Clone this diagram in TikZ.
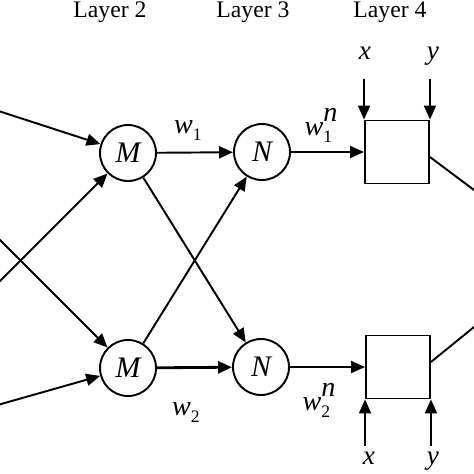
\documentclass[tikz,border=0pt]{standalone}
\usepackage{fontspec}
\setmainfont{Liberation Serif}
\usetikzlibrary{arrows.meta}

% weight labels: w with a small index (and an n above it)
\newcommand{\wt}[1]{\textit{w}\raisebox{-0.25em}{\fontsize{10}{10}\selectfont #1}}
\newcommand{\wn}[1]{\textit{w}\rlap{\raisebox{-0.28em}{\fontsize{10}{10}\selectfont #1}}\raisebox{0.48em}{\textit{n}}}

\begin{document}
\begin{tikzpicture}[x=0.02cm, y=-0.02cm, line width=1.1pt,
    >={Triangle[length=0.28cm, width=0.24cm]},
    neuron/.style={circle, draw, minimum size=1.12cm, inner sep=0pt,
        font=\fontsize{17}{20}\selectfont\itshape},
    cell/.style={rectangle, draw, minimum width=1.28cm, minimum height=1.26cm},
    lbl/.style={font=\fontsize{16}{19}\selectfont, anchor=base, inner sep=0pt},
    xy/.style={font=\fontsize{15.5}{19}\selectfont\itshape, inner sep=0pt,
        text height=0.5em, text depth=0.2em, anchor=base},
    layer/.style={font=\fontsize{13.5}{16}\selectfont, anchor=base}]
        \useasboundingbox (0,0) rectangle (474,474);
        \clip (0,0) rectangle (474,474);

        % layer titles
        \node[layer] (lay2) at (110,17) {Layer 2};
        \node[layer] (lay3) at (253,17) {Layer 3};
        \node[layer] (lay4) at (390,17) {Layer 4};

        % layer 2 and layer 3 nodes
        \node[neuron] (m1) at (128,153) {M};
        \node[neuron] (m2) at (128,368) {M};
        \node[neuron] (n1) at (262,152) {N};
        \node[neuron] (n2) at (261,367) {N};

        % layer 4 boxes
        \node[cell] (b1) at (397,152) {};
        \node[cell] (b2) at (398,367) {};

        % inputs x, y of the boxes
        \node[xy] (x1) at (365,59) {x};
        \node[xy] (y1) at (433,59) {y};
        \node[xy] (x2) at (369,464) {x};
        \node[xy] (y2) at (433,464) {y};

        % weights
        \node[lbl] (w1) at (188,133) {\wt{1}};
        \node[lbl] (w2) at (186,415) {\wt{2}};
        \node[lbl] (wn1) at (321,135) {\wn{1}};
        \node[lbl] (wn2) at (319,410) {\wn{2}};

        % lines coming in from the left and going out on the right
        \coordinate (in1) at (-20,105);
        \coordinate (in2) at (-20,220);
        \coordinate (in3) at (-20,301);
        \coordinate (in4) at (-20,410);
        \coordinate (out1) at (490,202);
        \coordinate (out2) at (490,314);

        \draw[->] (in1) -- (m1);
        \draw[->] (in3) -- (m1);
        \draw[->] (in2) -- (m2);
        \draw[->] (in4) -- (m2);

        % layer 2 -> layer 3
        \draw[->] (m1) -- (n1);
        \draw[->, line width=1.6pt] (m2) -- (n2);
        \draw[->] (m1) -- (n2);
        \draw[->] (m2) -- (n1);

        % layer 3 -> layer 4
        \draw[->] (n1) -- (b1);
        \draw[->] (n2) -- (b2);

        \draw[->, shorten <=0.31cm] (x1.south -| b1.north west) -- (b1.north west);
        \draw[->, shorten <=0.31cm] (y1.south -| b1.north east) -- (b1.north east);
        \draw[->, shorten <=0.16cm] (x2.north -| b2.south west) -- (b2.south west);
        \draw[->, shorten <=0.16cm] (y2.north -| b2.south east) -- (b2.south east);

        \draw ([yshift=-0.1cm]b1.east) -- (out1);
        \draw ([yshift=0.1cm]b2.east) -- (out2);
\end{tikzpicture}
\end{document}
